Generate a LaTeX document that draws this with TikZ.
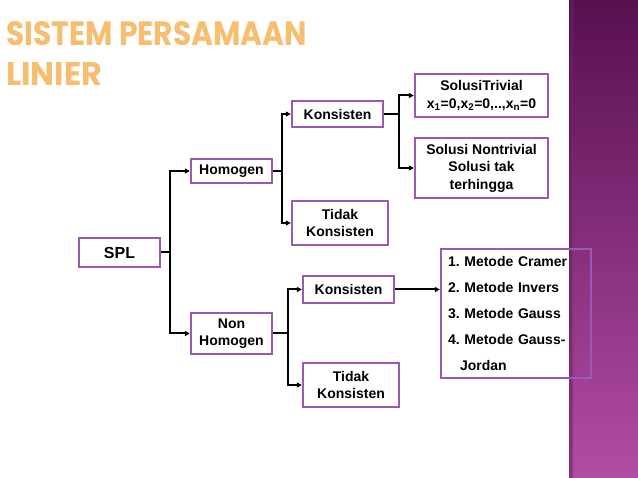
\documentclass[tikz,border=0pt]{standalone}
\usepackage{fontspec}
\setmainfont{Liberation Sans}
\newfontfamily\titlefont{Poppins}
\usetikzlibrary{arrows.meta}
\definecolor{boxpurple}{RGB}{155,89,182}
\definecolor{bandtop}{RGB}{88,16,80}
\definecolor{bandmid}{RGB}{128,44,122}
\definecolor{bandbot}{RGB}{178,76,165}
\definecolor{titleorange}{RGB}{246,190,110}
\definecolor{titleedge}{RGB}{236,160,60}
\tikzset{
  box/.style={draw=boxpurple, line width=2.4pt, font=\fontsize{14}{17.5}\selectfont\bfseries, align=center, inner sep=0pt},
  conn/.style={line width=2pt, black},
  arr/.style={conn, -{Triangle[length=5pt,width=5pt]}},
}
\begin{document}
\frenchspacing
\begin{tikzpicture}[x=1pt,y=-1pt]
\useasboundingbox (0,0) rectangle (638,478);
\fill[white] (0,0) rectangle (638,478);
% purple band
\shade[top color=bandtop, middle color=bandmid, bottom color=bandbot] (569,0) rectangle (638,478);
\shade[left color=black!40!bandmid, right color=bandmid, opacity=0.5] (569,0) rectangle (573,478);
% title
\node[anchor=base west, inner sep=0pt, text=titleorange] (t1) at (6,46) {\resizebox{301pt}{24pt}{\titlefont\bfseries SISTEM PERSAMAAN}};
\node[anchor=base west, inner sep=0pt, text=titleorange] (t2) at (6,86) {\resizebox{96pt}{23pt}{\titlefont\bfseries LINIER}};
% boxes
\node[box, minimum width=81pt, minimum height=29pt, font=\fontsize{16}{18}\selectfont\bfseries] (spl) at (119.5,252.5) {SPL};
\node[box, minimum width=81pt, minimum height=24pt] (hom) at (231.5,171) {Homogen};
\node[box, minimum width=81pt, minimum height=41pt] (nonhom) at (231.5,333.5) {Non\\Homogen};
\node[box, minimum width=91pt, minimum height=26pt] (kon1) at (337.5,114) {Konsisten};
\node[box, minimum width=96pt, minimum height=44pt] (tk1) at (340,223) {Tidak\\Konsisten};
\node[box, minimum width=133pt, minimum height=43pt] (triv) at (481.5,95.5) {SolusiTrivial\\x\textsubscript{1}=0,x\textsubscript{2}=0,..,x\textsubscript{n}=0};
\node[box, minimum width=133pt, minimum height=60pt] (nontriv) at (481.5,168) {Solusi Nontrivial\\Solusi tak\\terhingga};
\node[box, minimum width=91pt, minimum height=27pt] (kon2) at (348.5,289.5) {Konsisten};
\node[box, minimum width=96pt, minimum height=44pt] (tk2) at (351,385) {Tidak\\Konsisten};
\node[box, minimum width=150pt, minimum height=129pt, align=left, text width=136pt,
      font=\fontsize{14}{25.8}\selectfont\bfseries] (met) at (516,313.5)
  {1. Metode Cramer\\2. Metode Invers\\3. Metode Gauss\\4. Metode Gauss-\\\hspace*{12pt}Jordan};
% connectors
\draw[conn] (spl.east) -- ++(9,0) coordinate (j1);
\draw[arr] (j1) |- (hom);
\draw[arr] (j1) |- (nonhom);
\draw[conn] (hom.east) -- ++(9,0) coordinate (j2);
\draw[arr] (j2) |- (kon1);
\draw[arr] (j2) |- (tk1);
\draw[conn] (kon1.east) -- ++(15,0) coordinate (j3);
\draw[arr] (j3) |- (triv);
\draw[arr] (j3) |- (nontriv);
\draw[conn] (nonhom.east) -- ++(15,0) coordinate (j4);
\draw[arr] (j4) |- (kon2);
\draw[arr] (j4) |- (tk2);
\draw[arr] (kon2.east) -- (kon2.east -| met.west);
\end{tikzpicture}
\end{document}
